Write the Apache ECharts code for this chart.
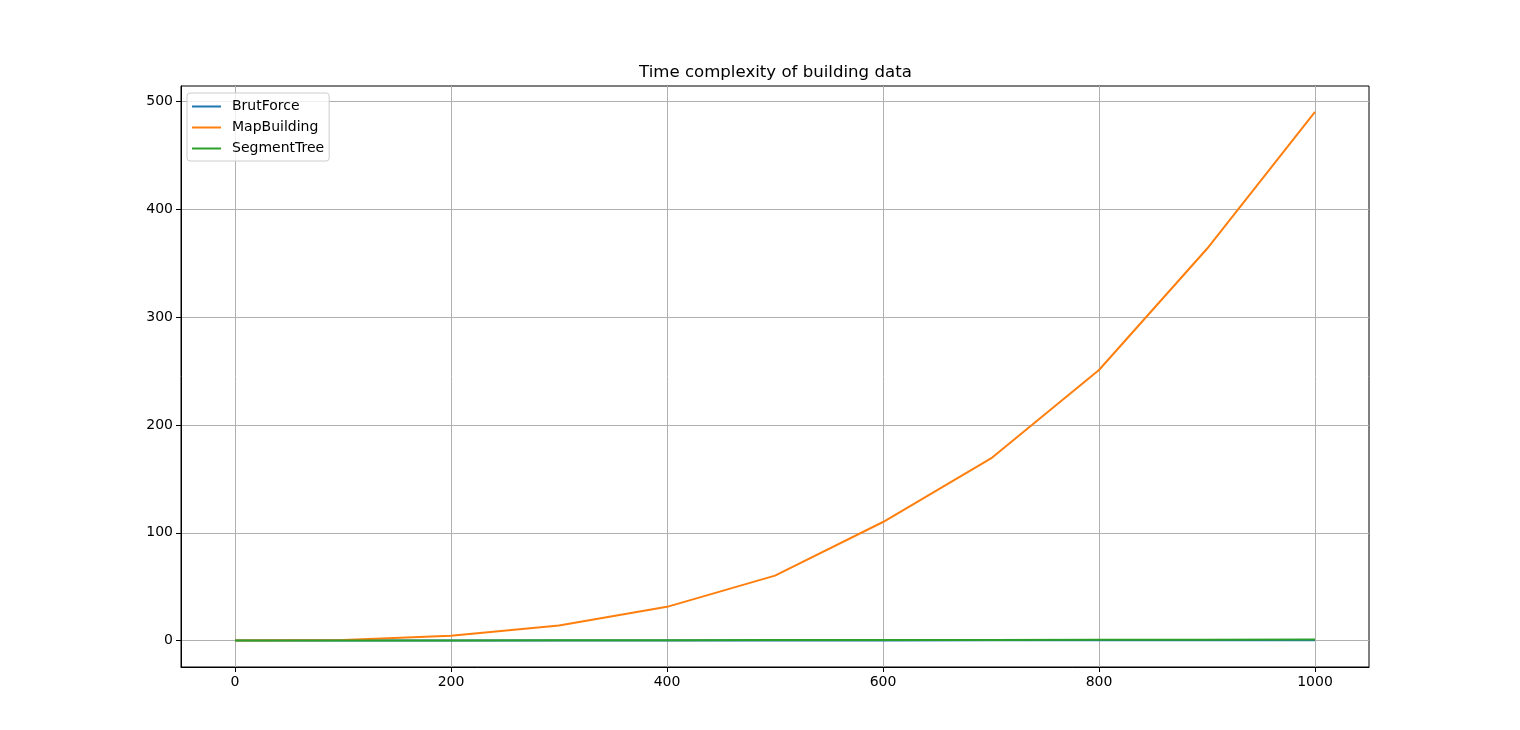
<!DOCTYPE html>
<html>
<head>
<meta charset="utf-8">
<script src="https://cdn.jsdelivr.net/npm/echarts@6/dist/echarts.min.js"></script>
<style>
  html, body { margin: 0; padding: 0; background: #fff; }
  #main { width: 1520px; height: 730px; }
</style>
</head>
<body>
<div id="main"></div>
<script>
// input sizes
var sizes = [0, 100, 200, 300, 400, 500, 600, 700, 800, 900, 1000];
// times
var brutForce = [0, 0.03, 0.06, 0.09, 0.12, 0.15, 0.18, 0.21, 0.24, 0.27, 0.3];
var mapBuilding = [0, 0.5, 4.6, 14, 31.3, 60.3, 110, 169, 251, 363.5, 490.5];
var segmentTree = [0, 0.08, 0.17, 0.26, 0.36, 0.45, 0.55, 0.65, 0.75, 0.86, 0.97];
var xTicks = [0, 200, 400, 600, 800, 1000];
var yTicks = [0, 100, 200, 300, 400, 500];

function pairs(ys) {
  return sizes.map(function (x, i) { return [x, ys[i]]; });
}

var chartDom = document.getElementById('main');
var myChart = echarts.init(chartDom);
var font = 'DejaVu Sans';

var option = {
  animation: false,
  title: {
    text: 'Time complexity of building data',
    left: 639,
    top: 64,
    padding: 0,
    textStyle: { fontFamily: font, fontSize: 16.6, fontWeight: 'normal', color: '#000' }
  },
  legend: {
    orient: 'vertical',
    left: 187,
    top: 93,
    padding: [5, 5, 4, 5],
    itemGap: 4,
    itemWidth: 29,
    itemHeight: 2,
    icon: 'rect',
    backgroundColor: 'rgba(255,255,255,0.8)',
    borderColor: '#cccccc',
    borderWidth: 1,
    borderRadius: 3,
    textStyle: { fontFamily: font, fontSize: 14, color: '#000', lineHeight: 17, padding: [0, 0, 0, 6] },
    data: ['BrutForce', 'MapBuilding', 'SegmentTree']
  },
  grid: {
    left: 181, right: 151, top: 86, bottom: 63,
    show: true, borderColor: '#000', borderWidth: 1, backgroundColor: 'transparent'
  },
  xAxis: {
    type: 'value',
    min: -50,
    max: 1050,
    axisLine: { show: true, onZero: false, lineStyle: { color: '#000', width: 1 } },
    axisTick: { show: true, inside: false, length: 5, customValues: xTicks, lineStyle: { color: '#000', width: 1 } },
    axisLabel: { customValues: xTicks, formatter: function (v) { return String(v); },
      fontFamily: font, fontSize: 14, color: '#000', margin: 8 },
    splitLine: { show: true, lineStyle: { color: '#b0b0b0', width: 1 } }
  },
  yAxis: {
    type: 'value',
    min: -24.5,
    max: 514.5,
    axisLine: { show: true, onZero: false, lineStyle: { color: '#000', width: 1 } },
    axisTick: { show: true, inside: false, length: 5, customValues: yTicks, lineStyle: { color: '#000', width: 1 } },
    axisLabel: { customValues: yTicks, formatter: function (v) { return String(v); },
      fontFamily: font, fontSize: 14, color: '#000', margin: 8 },
    splitLine: { show: true, lineStyle: { color: '#b0b0b0', width: 1 } }
  },
  series: [
    { name: 'BrutForce', type: 'line', data: pairs(brutForce), showSymbol: false, symbol: 'none',
      lineStyle: { color: '#1f77b4', width: 2 }, itemStyle: { color: '#1f77b4' } },
    { name: 'MapBuilding', type: 'line', data: pairs(mapBuilding), showSymbol: false, symbol: 'none',
      lineStyle: { color: '#ff7f0e', width: 2 }, itemStyle: { color: '#ff7f0e' } },
    { name: 'SegmentTree', type: 'line', data: pairs(segmentTree), showSymbol: false, symbol: 'none',
      lineStyle: { color: '#2ca02c', width: 2 }, itemStyle: { color: '#2ca02c' } }
  ]
};

option && myChart.setOption(option);
</script>
</body>
</html>
